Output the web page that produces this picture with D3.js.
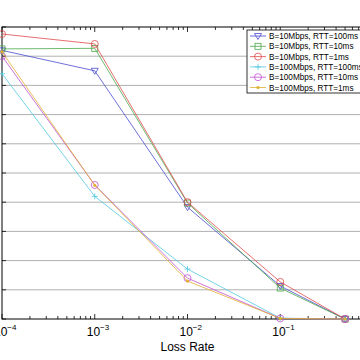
<!DOCTYPE html>
<html lang="en">
<head>
  <meta charset="UTF-8">
  <title>Loss Rate</title>
  <style>
    body { margin: 0; background: #ffffff; }
    #thesvg { width: 360px; height: 360px; display: block; }
    text { font-family: "Liberation Sans", Arial, sans-serif; fill: #000; }
  </style>
</head>
<body>
  <svg id="thesvg"></svg>
  <script src="https://d3js.org/d3.v7.min.js"></script>
  <script>
    // loss rates on the x axis
    var lossRates = [0.0001, 0.001, 0.01, 0.1, 0.5];
    var xTicks = [-4, -3, -2, -1];

    var names = [
      "B=10Mbps, RTT=100ms",
      "B=10Mbps, RTT=10ms",
      "B=10Mbps, RTT=1ms",
      "B=100Mbps, RTT=100ms",
      "B=100Mbps, RTT=10ms",
      "B=100Mbps, RTT=1ms"
    ];

    var s1 = [9.2, 8.5, 3.83, 1.13, 0];
    var s2 = [9.25, 9.27, 3.97, 1.06, 0];
    var s3 = [9.76, 9.42, 4.0, 1.27, 0];
    var s4 = [8.4, 4.2, 1.71, 0.03, 0];
    var s5 = [9.0, 4.59, 1.4, 0.02, 0];
    var s6 = [9.15, 4.58, 1.3, 0.02, 0];
    var series = [s1, s2, s3, s4, s5, s6];

    var colours = ["#4a4ad0", "#4aa84a", "#e04a4a", "#50c8e0", "#c050d0", "#e0b030"];
    var markers = ["tri", "square", "circle", "plus", "circle", "dot"];

    var svg = d3.select("svg");

    var x = d3.scaleLog().domain([1e-4, 1]).range([2, 373]);
    var y = d3.scaleLinear().domain([0, 10]).range([319, 27]);

    // horizontal grid
    svg.append("g")
      .selectAll("line")
      .data(d3.range(1, 10))
      .enter().append("line")
      .attr("x1", 2).attr("x2", 373)
      .attr("y1", d => y(d)).attr("y2", d => y(d))
      .attr("stroke", "#b0b0b0").attr("stroke-width", 1);

    // frame
    svg.append("rect")
      .attr("x", 2).attr("y", y(10))
      .attr("width", 371).attr("height", y(0) - y(10))
      .attr("fill", "none").attr("stroke", "#000").attr("stroke-width", 1);

    // minor ticks on bottom and top, inward
    var minor = [];
    for (var e = -4; e < 0; e++) {
      for (var m = 1; m < 10; m++) minor.push(m * Math.pow(10, e));
    }
    svg.append("g").selectAll("line")
      .data(minor).enter().append("line")
      .attr("x1", d => x(d)).attr("x2", d => x(d))
      .attr("y1", y(0)).attr("y2", d => y(0) - (Math.abs(Math.log10(d) % 1) < 1e-9 ? 5 : 3))
      .attr("stroke", "#000").attr("stroke-width", 0.8);
    svg.append("g").selectAll("line")
      .data(minor).enter().append("line")
      .attr("x1", d => x(d)).attr("x2", d => x(d))
      .attr("y1", y(10)).attr("y2", d => y(10) + (Math.abs(Math.log10(d) % 1) < 1e-9 ? 5 : 3))
      .attr("stroke", "#000").attr("stroke-width", 0.8);

    // left ticks
    svg.append("g").selectAll("line")
      .data(d3.range(0, 11)).enter().append("line")
      .attr("x1", 2).attr("x2", 6)
      .attr("y1", d => y(d)).attr("y2", d => y(d))
      .attr("stroke", "#000").attr("stroke-width", 0.8);

    // tick labels 10^k
    var tl = svg.append("g").selectAll("text")
      .data(xTicks).enter().append("text")
      .attr("x", d => x(Math.pow(10, d)) - 8)
      .attr("y", 336)
      .attr("font-size", 12);
    tl.append("tspan").text("10");
    tl.append("tspan").attr("dy", -6).attr("font-size", 8).text(d => "\u2212" + Math.abs(d));

    svg.append("text")
      .attr("x", x(0.01)).attr("y", 351)
      .attr("text-anchor", "middle").attr("font-size", 12)
      .text("Loss Rate");

    function drawMarker(g, type, colour) {
      if (type === "tri") {
        g.append("path").attr("d", "M-3.5,-2.5L3.5,-2.5L0,3.5Z")
          .attr("fill", "none").attr("stroke", colour).attr("stroke-width", 0.8);
      } else if (type === "square") {
        g.append("rect").attr("x", -3).attr("y", -3).attr("width", 6).attr("height", 6)
          .attr("fill", "none").attr("stroke", colour).attr("stroke-width", 0.8);
      } else if (type === "circle") {
        g.append("circle").attr("r", 3.5)
          .attr("fill", "none").attr("stroke", colour).attr("stroke-width", 0.8);
      } else if (type === "plus") {
        g.append("path").attr("d", "M-3,0H3M0,-3V3")
          .attr("stroke", colour).attr("stroke-width", 0.8);
      } else if (type === "dot") {
        g.append("circle").attr("r", 1.6).attr("fill", colour);
      }
    }

    var line = d3.line().x((d, i) => x(lossRates[i])).y(d => y(d));

    series.forEach(function(s, k) {
      svg.append("path")
        .datum(s)
        .attr("d", line)
        .attr("fill", "none")
        .attr("stroke", colours[k])
        .attr("stroke-width", 0.8);
      s.forEach(function(v, i) {
        var g = svg.append("g").attr("transform", "translate(" + x(lossRates[i]) + "," + y(v) + ")");
        drawMarker(g, markers[k], colours[k]);
      });
    });

    // legend
    var lg = svg.append("g");
    lg.append("rect")
      .attr("x", 247).attr("y", 30).attr("width", 130).attr("height", 63)
      .attr("fill", "#fff").attr("stroke", "#000").attr("stroke-width", 0.8);
    names.forEach(function(n, k) {
      var yy = 36 + k * 10.3;
      lg.append("line").attr("x1", 250).attr("x2", 266).attr("y1", yy).attr("y2", yy)
        .attr("stroke", colours[k]).attr("stroke-width", 0.8);
      drawMarker(lg.append("g").attr("transform", "translate(258," + yy + ")"), markers[k], colours[k]);
      lg.append("text").attr("x", 269).attr("y", yy + 3)
        .attr("font-size", 8.2).text(n);
    });
  </script>
</body>
</html>
